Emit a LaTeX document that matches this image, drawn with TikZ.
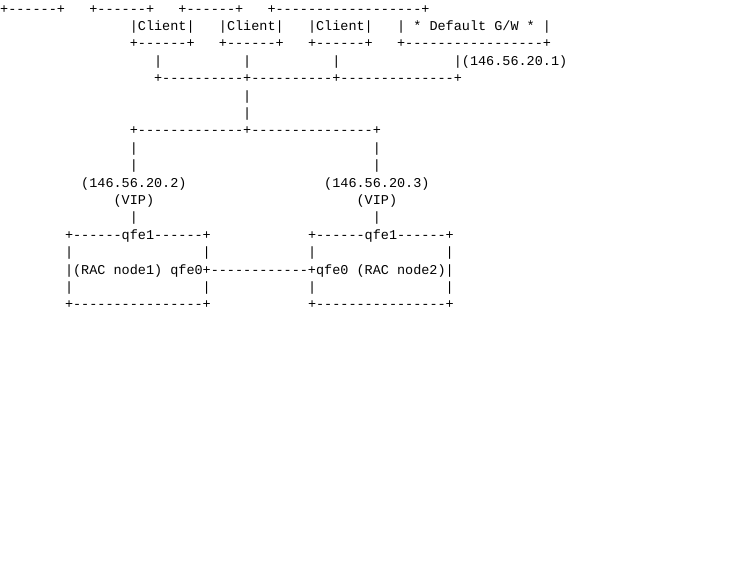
\documentclass[tikz,border=0pt]{standalone}
\usepackage{fontspec}
\newfontfamily\asc{Liberation Mono}
\begin{document}
\begin{tikzpicture}[x=8.1pt,y=-17.4pt,
  asc/.style={anchor=base west,inner sep=0pt,font=\asc\fontsize{13.5pt}{14pt}\selectfont,text=black}]
\useasboundingbox[fill=white] (0pt,0pt) rectangle (756pt,-580pt);
\newcommand\cell[4]{\node[asc] (#1) at (#2,#3-0.25) {\strut#4};}
\cell{a1}{0}{1}{+------+}
\cell{a2}{11}{1}{+------+}
\cell{a3}{22}{1}{+------+}
\cell{a4}{33}{1}{+------------------+}
\cell{c1}{16}{2}{|Client|}
\cell{c2}{27}{2}{|Client|}
\cell{c3}{38}{2}{|Client|}
\cell{gw}{49}{2}{|~*~Default~G/W~*~|}
\cell{b1}{16}{3}{+------+}
\cell{b2}{27}{3}{+------+}
\cell{b3}{38}{3}{+------+}
\cell{b4}{49}{3}{+-----------------+}
\cell{v1}{19}{4}{|}
\cell{v2}{30}{4}{|}
\cell{v3}{41}{4}{|}
\cell{v4}{56}{4}{|(146.56.20.1)}
\cell{bus}{19}{5}{+----------+----------+--------------+}
\cell{t1}{30}{6}{|}
\cell{t2}{30}{7}{|}
\cell{bus2}{16}{8}{+-------------+---------------+}
\cell{l9}{16}{9}{|}
\cell{r9}{46}{9}{|}
\cell{l10}{16}{10}{|}
\cell{r10}{46}{10}{|}
\cell{ip2}{10}{11}{(146.56.20.2)}
\cell{ip3}{40}{11}{(146.56.20.3)}
\cell{vip2}{14}{12}{(VIP)}
\cell{vip3}{44}{12}{(VIP)}
\cell{l13}{16}{13}{|}
\cell{r13}{46}{13}{|}
\cell{n1t}{8}{14}{+------qfe1------+}
\cell{n2t}{38}{14}{+------qfe1------+}
\cell{n1a}{8}{15}{|~~~~~~~~~~~~~~~~|}
\cell{n2a}{38}{15}{|~~~~~~~~~~~~~~~~|}
\cell{link}{8}{16}{|(RAC~node1)~qfe0+------------+qfe0~(RAC~node2)|}
\cell{n1b}{8}{17}{|~~~~~~~~~~~~~~~~|}
\cell{n2b}{38}{17}{|~~~~~~~~~~~~~~~~|}
\cell{n1c}{8}{18}{+----------------+}
\cell{n2c}{38}{18}{+----------------+}
\end{tikzpicture}
\end{document}
